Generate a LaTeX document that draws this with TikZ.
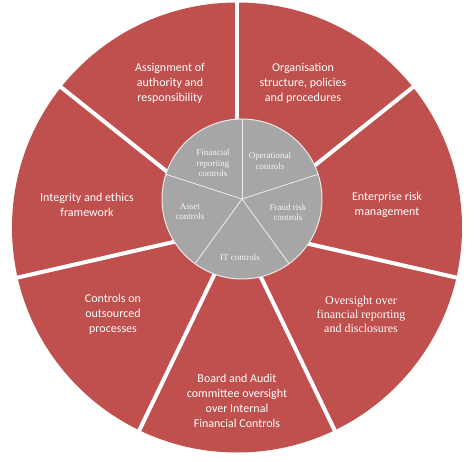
\documentclass[tikz,border=0pt]{standalone}
\usepackage{fontspec}
\setmainfont{Carlito}
\newfontfamily\serifface{Liberation Serif}
\definecolor{wheelred}{HTML}{C0504D}
\definecolor{hubgrey}{HTML}{A6A6A6}
\begin{document}
\begin{tikzpicture}[x=1pt,y=1pt,
  outer/.style={text=white, align=center, font=\fontsize{12}{15}\selectfont},
  outerserif/.style={text=white, align=center, font=\serifface\fontsize{12}{14}\selectfont},
  inner/.style={text=white!88!hubgrey, align=center, font=\serifface\fontsize{9}{10.8}\selectfont},
  sep/.style={white, line width=4pt},
  hubsep/.style={white!80!hubgrey, line width=0.8pt}]
\useasboundingbox (-237,-234.5) rectangle (237,227.5);
\fill[white] (-237,-234.5) rectangle (237,227.5);
\coordinate (wheel) at (0,0);
\fill[wheelred] (wheel) circle (225);
\foreach \a in {0,...,6} \draw[sep] (wheel) -- ++({90+\a*360/7}:232);
\coordinate (hub) at (5,28.5);
\fill[hubgrey] (hub) circle (80);
\draw[white!75!hubgrey, line width=1pt] (hub) circle (80);
\foreach \a in {0,...,4} \draw[hubsep] (hub) -- ++({90+\a*72}:80);
% outer labels
\node[outer] (assign) at (-67,144.5) {Assignment of\\authority and\\responsibility};
\node[outer] (org) at (66,144.5) {Organisation\\structure, policies\\and procedures};
\node[outer] (integ) at (-150,23) {Integrity and ethics\\framework};
\node[outer] (erm) at (150,23) {Enterprise risk\\management};
\node[outer] (outs) at (-124,-86.5) {Controls on\\outsourced\\processes};
\node[outerserif] (overs) at (124,-86.5) {Oversight over\\financial reporting\\and disclosures};
\node[outer] (board) at (0,-173) {Board and Audit\\committee oversight\\over Internal\\Financial Controls};
% inner labels
\node[inner] (fin) at (-24,64.5) {Financial\\reporting\\controls};
\node[inner] (oper) at (33,66.5) {Operational\\controls};
\node[inner] (asset) at (-47,16) {Asset\\controls};
\node[inner] (fraud) at (51,15) {Fraud risk\\controls};
\node[inner] (itc) at (3,-29.5) {IT controls};
\end{tikzpicture}
\end{document}
